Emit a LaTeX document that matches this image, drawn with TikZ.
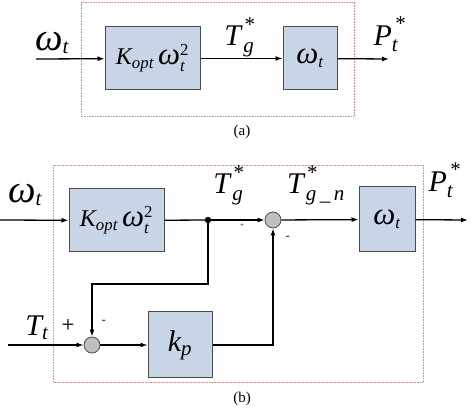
\documentclass[tikz,border=0pt]{standalone}
\usepackage{fontspec}
\usepackage{amsmath}
\usepackage{graphicx}
\setmainfont{Liberation Serif}
\usetikzlibrary{arrows.meta}
\newcommand{\vi}[1]{\text{\itshape #1}}
\newcommand{\om}{\text{\scalebox{1.3}{\itshape ω}}}
\newcommand{\st}{\mkern3mu\raisebox{3pt}{\fontsize{21}{21}\selectfont *}}
\tikzset{
  blk/.style={draw=black!70,fill=blockfill,line width=1pt,inner sep=0pt,font=\fontsize{24}{26}\selectfont},
  sumpt/.style={circle,draw=black!70,fill=black!25,line width=0.8pt,minimum size=16pt,inner sep=0pt},
  lbl/.style={font=\fontsize{30}{32}\selectfont,inner sep=0pt},
  sgn/.style={font=\sffamily\bfseries\fontsize{12}{12}\selectfont,inner sep=0pt},
  sig/.style={line width=1.3pt,-{Latex[length=7pt,width=5pt]}},
  wire/.style={line width=1.3pt},
  frame/.style={draw=framered,densely dotted,line width=0.6pt},
  capt/.style={font=\fontsize{15}{16}\selectfont}
}
\definecolor{blockfill}{HTML}{C8D5E6}
\definecolor{framered}{HTML}{D98A8A}
\begin{document}
\begin{tikzpicture}[x=1pt,y=-1pt]
\useasboundingbox (0,0) rectangle (474,411);
% (a)
\draw[frame] (81,2) rectangle (354,116);
\node[blk,minimum width=95pt,minimum height=63pt] (aK) at (152.5,58.5) {$\vi{K}_{\vi{opt}}\,\om_{\vi{t}}^{\text{2}}$};
\node[blk,minimum width=54pt,minimum height=63pt] (aW) at (310,58.5) {$\om_{\vi{t}}$};
\coordinate (ain) at (36,59);
\coordinate (aout) at (389,59);
\draw[sig] (ain) -- (aK);
\draw[sig] (aK) -- (aW);
\draw[sig] (aW) -- (aout);
\node[lbl] (awt) at (52,43) {$\om_{\vi{t}}$};
\node[lbl] (aTg) at (240,37) {$\vi{T}^{\st}_{\mkern2mu\vi{g}}$};
\node[lbl] (aPt) at (390,34) {$\vi{P}^{\st}_{\vi{t}}$};
\node[capt] (acap) at (242,132) {(a)};
% (b)
\draw[frame] (53,165) rectangle (423,382);
\node[blk,minimum width=95pt,minimum height=63pt] (bK) at (116.5,220.5) {$\vi{K}_{\vi{opt}}\,\om_{\vi{t}}^{\text{2}}$};
\node[blk,minimum width=56pt,minimum height=65pt] (bW) at (387,219.5) {$\om_{\vi{t}}$};
\node[blk,minimum width=64pt,minimum height=66pt,font=\fontsize{30}{32}\selectfont] (bkp) at (180,345) {$\vi{k}_{\vi{p}}$};
\node[sumpt] (bs1) at (273,220) {};
\node[sumpt] (bs2) at (92,345) {};
\fill (208,220) circle (3.2pt) coordinate (bdot);
\coordinate (bin) at (0,220);
\coordinate (bout) at (468,220);
\coordinate (btin) at (8,345);
\draw[sig] (bin) -- (bK);
\draw[wire] (bK) -- (bdot);
\draw[sig] (bdot) -- (bs1);
\draw[sig] (bs1) -- (bW);
\draw[sig] (bW) -- (bout);
\draw[sig] (bdot) |- (92,284) -- (bs2);
\draw[sig] (btin) -- (bs2);
\draw[sig] (bs2) -- (bkp);
\draw[sig] (bkp.east) -| (bs1);
\node[lbl] (bwt) at (25,195) {$\om_{\vi{t}}$};
\node[lbl] (bTg) at (229,185) {$\vi{T}^{\st}_{\mkern2mu\vi{g}}$};
\node[lbl] (bTgn) at (316,185) {$\vi{T}^{\st}_{\mkern2mu\vi{g\,\_\,n}}$};
\node[lbl] (bPt) at (445,180) {$\vi{P}^{\st}_{\vi{t}}$};
\node[lbl] (bTt) at (37,328) {$\vi{T}_{\vi{t}}$};
\node[font=\fontsize{7}{7}\selectfont,inner sep=0pt] (bp1) at (242,226) {+};
\node[sgn] (bm1) at (288,238) {-};
\node[sgn,font=\sffamily\bfseries\fontsize{15}{15}\selectfont] (bp2) at (68,325) {+};
\node[sgn] (bm2) at (104,322) {-};
\node[capt] (bcap) at (242,399) {(b)};
\end{tikzpicture}
\end{document}
